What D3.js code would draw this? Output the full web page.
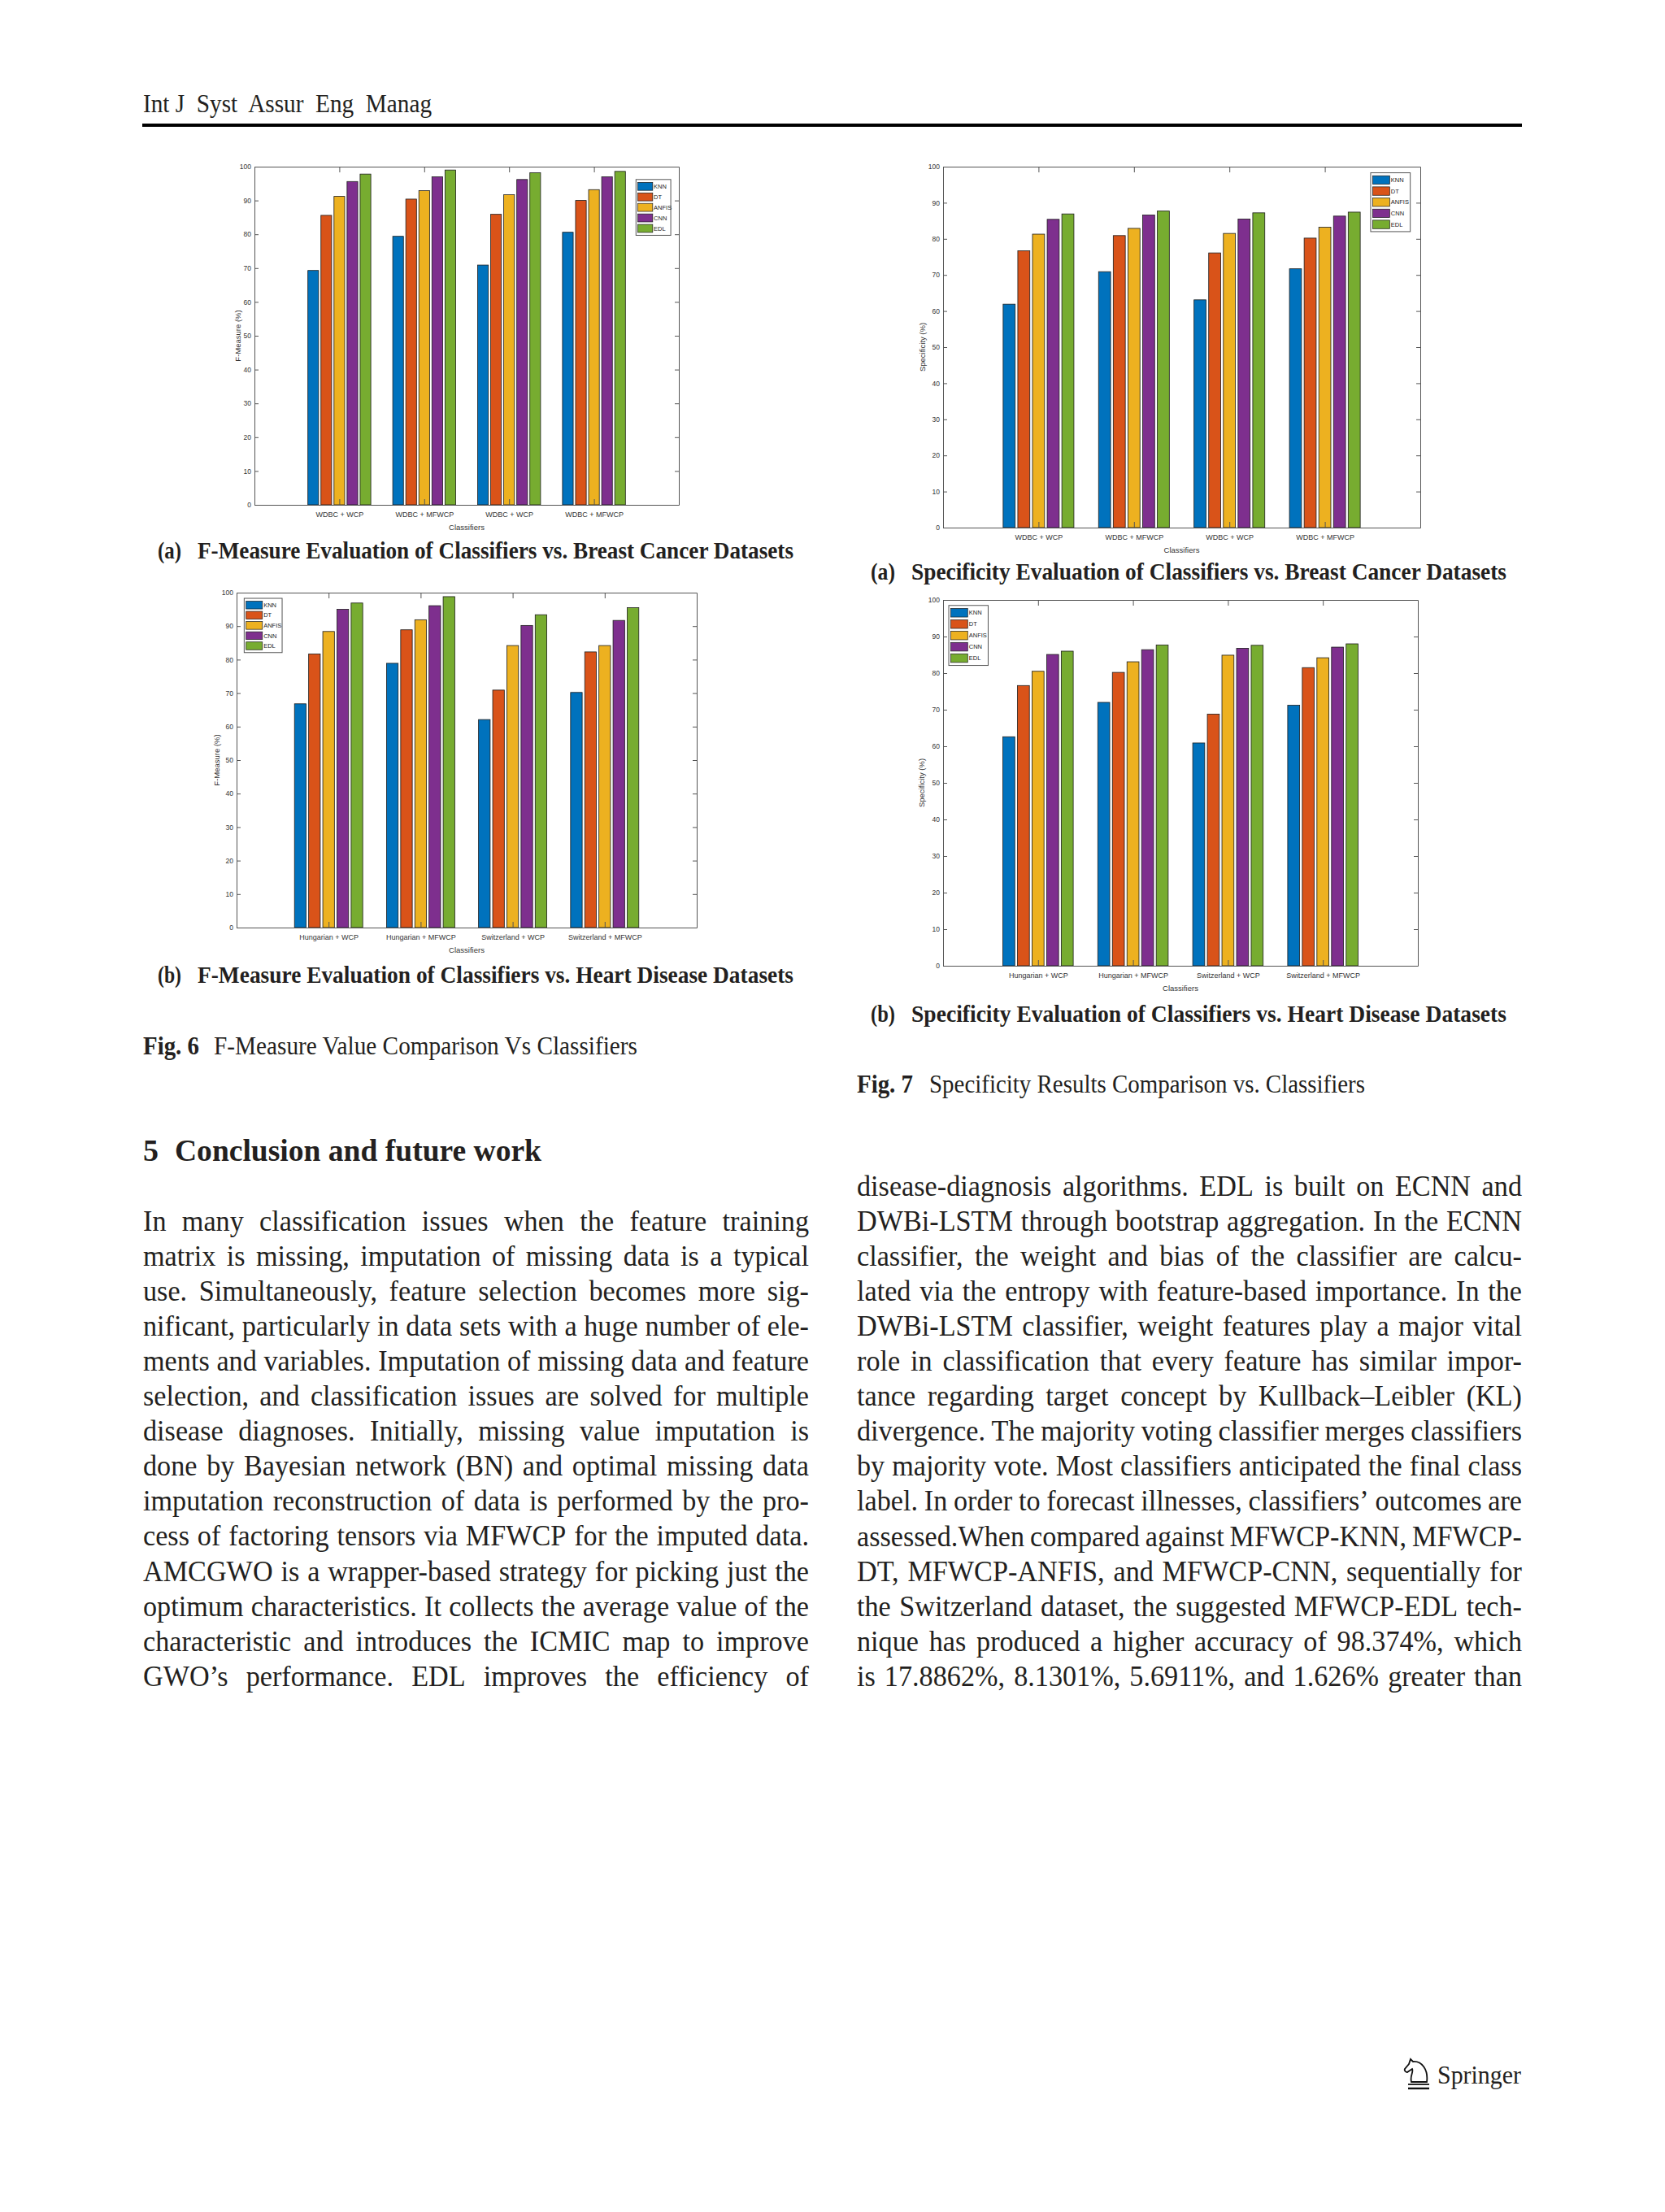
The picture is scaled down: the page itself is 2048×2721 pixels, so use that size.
<!DOCTYPE html>
<html>
<head>
<meta charset="utf-8">
<script src="https://cdn.jsdelivr.net/npm/d3@7"></script>
<style>
  html, body { margin: 0; padding: 0; background: #fff; }
  svg { display: block; }
</style>
</head>
<body>
<script>
// ---------------- DATA ----------------
const seriesNames = ["KNN", "DT", "ANFIS", "CNN", "EDL"];
const breastCategories = ["WDBC + WCP", "WDBC + MFWCP", "WDBC + WCP", "WDBC + MFWCP"];
const heartCategories = ["Hungarian + WCP", "Hungarian + MFWCP", "Switzerland + WCP", "Switzerland + MFWCP"];
const yTickValues = [0, 10, 20, 30, 40, 50, 60, 70, 80, 90, 100];

// rows = series (KNN, DT, ANFIS, CNN, EDL), columns = categories
const fMeasureBreast = [
  [69.3, 79.4, 70.9, 80.6],
  [85.6, 90.4, 85.9, 90.0],
  [91.2, 92.9, 91.7, 93.2],
  [95.6, 97.0, 96.2, 97.0],
  [97.8, 99.0, 98.2, 98.6]
];
const fMeasureHeart = [
  [66.8, 78.9, 62.1, 70.2],
  [81.7, 88.9, 70.9, 82.3],
  [88.4, 91.9, 84.2, 84.2],
  [95.0, 96.1, 90.2, 91.7],
  [96.9, 98.8, 93.4, 95.5]
];
const specificityBreast = [
  [61.9, 70.9, 63.1, 71.7],
  [76.7, 80.9, 76.1, 80.2],
  [81.3, 82.9, 81.5, 83.2],
  [85.4, 86.6, 85.5, 86.3],
  [86.9, 87.7, 87.2, 87.4]
];
const specificityHeart = [
  [62.6, 72.0, 60.9, 71.2],
  [76.6, 80.2, 68.8, 81.5],
  [80.5, 83.1, 84.9, 84.2],
  [85.1, 86.4, 86.8, 87.1],
  [86.0, 87.7, 87.6, 88.0]
];

const headerText = "Int J  Syst  Assur  Eng  Manag";
const leftColumnLines = [
  "In many classification issues when the feature training",
  "matrix is missing, imputation of missing data is a typical",
  "use. Simultaneously, feature selection becomes more sig-",
  "nificant, particularly in data sets with a huge number of ele-",
  "ments and variables. Imputation of missing data and feature",
  "selection, and classification issues are solved for multiple",
  "disease diagnoses. Initially, missing value imputation is",
  "done by Bayesian network (BN) and optimal missing data",
  "imputation reconstruction of data is performed by the pro-",
  "cess of factoring tensors via MFWCP for the imputed data.",
  "AMCGWO is a wrapper-based strategy for picking just the",
  "optimum characteristics. It collects the average value of the",
  "characteristic and introduces the ICMIC map to improve",
  "GWO\u2019s performance. EDL improves the efficiency of"
];
const rightColumnLines = [
  "disease-diagnosis algorithms. EDL is built on ECNN and",
  "DWBi-LSTM through bootstrap aggregation. In the ECNN",
  "classifier, the weight and bias of the classifier are calcu-",
  "lated via the entropy with feature-based importance. In the",
  "DWBi-LSTM classifier, weight features play a major vital",
  "role in classification that every feature has similar impor-",
  "tance regarding target concept by Kullback\u2013Leibler (KL)",
  "divergence. The majority voting classifier merges classifiers",
  "by majority vote. Most classifiers anticipated the final class",
  "label. In order to forecast illnesses, classifiers\u2019 outcomes are",
  "assessed.When compared against MFWCP-KNN, MFWCP-",
  "DT, MFWCP-ANFIS, and MFWCP-CNN, sequentially for",
  "the Switzerland dataset, the suggested MFWCP-EDL tech-",
  "nique has produced a higher accuracy of 98.374%, which",
  "is 17.8862%, 8.1301%, 5.6911%, and 1.626% greater than"
];

// ---------------- STYLE / LAYOUT ----------------
const colors = ["#0072BD", "#D95319", "#EDB120", "#7E2F8E", "#77AC30"];
const W = 2048, H = 2721;
const serif = "'Liberation Serif', 'Times New Roman', serif";
const sans = "'Liberation Sans', Arial, sans-serif";
const textColor = "#231f20";

const svg = d3.select("body").append("svg").attr("width", W).attr("height", H);
svg.append("rect").attr("width", W).attr("height", H).attr("fill", "#fff");

// header
svg.append("text").attr("x", 176).attr("y", 138)
  .attr("font-family", serif).attr("font-size", 32).attr("fill", textColor)
  .attr("textLength", 355).attr("lengthAdjust", "spacingAndGlyphs")
  .attr("xml:space", "preserve").style("white-space", "pre")
  .text(headerText);
svg.append("rect").attr("x", 175).attr("y", 152).attr("width", 1697).attr("height", 4).attr("fill", "#000");

// ---------------- CHARTS ----------------
const charts = [
  { values: fMeasureBreast, cats: breastCategories, ylabel: "F-Measure (%)",
    x0: 313, x1: 835, y0: 205, y1: 621, ylabelX: 296, legend: [0.899, 0.981, 0.038, 0.203] },
  { values: fMeasureHeart, cats: heartCategories, ylabel: "F-Measure (%)",
    x0: 291, x1: 857, y0: 729, y1: 1141, ylabelX: 270, legend: [0.0165, 0.099, 0.017, 0.179] },
  { values: specificityBreast, cats: breastCategories, ylabel: "Specificity (%)",
    x0: 1160, x1: 1747, y0: 205, y1: 649, ylabelX: 1138, legend: [0.896, 0.979, 0.017, 0.18] },
  { values: specificityHeart, cats: heartCategories, ylabel: "Specificity (%)",
    x0: 1160, x1: 1744, y0: 738, y1: 1188, ylabelX: 1137, legend: [0.012, 0.095, 0.015, 0.179] }
];

function drawChart(cfg) {
  const g = svg.append("g");
  const nS = seriesNames.length;
  const x = d3.scaleLinear().domain([0, cfg.cats.length + 1]).range([cfg.x0, cfg.x1]);
  const y = d3.scaleLinear().domain([0, 100]).range([cfg.y1, cfg.y0]);
  const groupWidth = Math.min(0.8, nS / (nS + 1.5));
  const slot = groupWidth / nS;
  const bw = x(slot * 0.82) - x(0);

  // bars
  seriesNames.forEach((s, j) => {
    g.selectAll(null).data(cfg.values[j]).enter().append("rect")
      .attr("x", (d, i) => x(i + 1 + (j - (nS - 1) / 2) * slot) - bw / 2)
      .attr("y", d => y(d))
      .attr("width", bw)
      .attr("height", d => y(0) - y(d))
      .attr("fill", colors[j])
      .attr("stroke", "#1b1b1b")
      .attr("stroke-width", 0.8);
  });

  const axColor = "#555";
  const styleAxis = sel => {
    sel.selectAll("path").attr("stroke", axColor).attr("stroke-width", 1);
    sel.selectAll("line").attr("stroke", axColor).attr("stroke-width", 1);
    sel.selectAll("text").attr("fill", "#333").attr("font-family", sans);
  };
  const catIdx = d3.range(1, cfg.cats.length + 1);

  g.append("g").attr("transform", `translate(${cfg.x0},0)`)
    .call(d3.axisLeft(y).tickValues(yTickValues).tickSize(-5).tickSizeOuter(0).tickPadding(4))
    .call(styleAxis).call(s => s.selectAll("text").attr("font-size", 8.5));
  g.append("g").attr("transform", `translate(${cfg.x1},0)`)
    .call(d3.axisRight(y).tickValues(yTickValues).tickSize(-5).tickSizeOuter(0).tickFormat(""))
    .call(styleAxis);
  g.append("g").attr("transform", `translate(0,${cfg.y1})`)
    .call(d3.axisBottom(x).tickValues(catIdx).tickSize(-7).tickSizeOuter(0).tickPadding(9)
      .tickFormat(d => cfg.cats[d - 1]))
    .call(styleAxis).call(s => s.selectAll("text").attr("font-size", 9));
  g.append("g").attr("transform", `translate(0,${cfg.y0})`)
    .call(d3.axisTop(x).tickValues(catIdx).tickSize(-7).tickSizeOuter(0).tickFormat(""))
    .call(styleAxis);

  // axis labels
  g.append("text")
    .attr("transform", `translate(${cfg.ylabelX},${(cfg.y0 + cfg.y1) / 2}) rotate(-90)`)
    .attr("text-anchor", "middle").attr("font-family", sans).attr("font-size", 9.5).attr("fill", "#333")
    .text(cfg.ylabel);
  g.append("text").attr("x", (cfg.x0 + cfg.x1) / 2).attr("y", cfg.y1 + 31)
    .attr("text-anchor", "middle").attr("font-family", sans).attr("font-size", 9.5).attr("fill", "#333")
    .text("Classifiers");

  // legend
  const w = cfg.x1 - cfg.x0, h = cfg.y1 - cfg.y0;
  const lx0 = cfg.x0 + cfg.legend[0] * w, lx1 = cfg.x0 + cfg.legend[1] * w;
  const ly0 = cfg.y0 + cfg.legend[2] * h, ly1 = cfg.y0 + cfg.legend[3] * h;
  const lg = g.append("g");
  lg.append("rect").attr("x", lx0).attr("y", ly0).attr("width", lx1 - lx0).attr("height", ly1 - ly0)
    .attr("fill", "#fff").attr("stroke", "#555").attr("stroke-width", 1);
  const rowH = (ly1 - ly0 - 4) / nS;
  const lw = lx1 - lx0;
  seriesNames.forEach((s, j) => {
    const ry = ly0 + 2 + j * rowH;
    lg.append("rect").attr("x", lx0 + 0.05 * lw).attr("y", ry + rowH * 0.12)
      .attr("width", 0.43 * lw).attr("height", rowH * 0.76)
      .attr("fill", colors[j]).attr("stroke", "#1b1b1b").attr("stroke-width", 0.7);
    lg.append("text").attr("x", lx0 + 0.51 * lw).attr("y", ry + rowH * 0.5)
      .attr("dy", "0.35em").attr("font-family", sans).attr("font-size", 7.5).attr("fill", "#222")
      .text(s);
  });
}
charts.forEach(drawChart);

// ---------------- CAPTIONS ----------------
function capText(x, y, str, opts) {
  const t = svg.append("text").attr("x", x).attr("y", y)
    .attr("font-family", serif).attr("font-size", opts.size).attr("fill", textColor)
    .attr("font-weight", opts.bold ? "bold" : "normal").text(str);
  if (opts.len) t.attr("textLength", opts.len).attr("lengthAdjust", "spacingAndGlyphs");
  return t;
}
// sub-captions
capText(194, 687, "(a)", { size: 29, bold: true, len: 29 });
capText(243, 687, "F-Measure Evaluation of Classifiers vs. Breast Cancer Datasets", { size: 29, bold: true, len: 733 });
capText(194, 1209, "(b)", { size: 29, bold: true, len: 29 });
capText(243, 1209, "F-Measure Evaluation of Classifiers vs. Heart Disease Datasets", { size: 29, bold: true, len: 733 });
capText(1071, 713, "(a)", { size: 29, bold: true, len: 30 });
capText(1121, 713, "Specificity Evaluation of Classifiers vs. Breast Cancer Datasets", { size: 29, bold: true, len: 732 });
capText(1071, 1257, "(b)", { size: 29, bold: true, len: 30 });
capText(1121, 1257, "Specificity Evaluation of Classifiers vs. Heart Disease Datasets", { size: 29, bold: true, len: 732 });
// figure captions
capText(176, 1297, "Fig. 6", { size: 31, bold: true, len: 69 });
capText(263, 1297, "F-Measure Value Comparison Vs Classifiers", { size: 31, len: 521 });
capText(1054, 1344, "Fig. 7", { size: 31, bold: true, len: 69 });
capText(1143, 1344, "Specificity Results Comparison vs. Classifiers", { size: 31, len: 536 });

// section heading
capText(176, 1428, "5", { size: 38, bold: true });
capText(215, 1428, "Conclusion and future work", { size: 38, bold: true, len: 451 });

// ---------------- BODY TEXT (justified, slightly condensed Times) ----------------
const bodySize = 36;
const squeeze = 0.95;
const measurer = svg.append("text").attr("font-family", serif).attr("font-size", bodySize)
  .attr("x", -1000).attr("y", -1000);
function wordWidth(w) { measurer.text(w); return measurer.node().getComputedTextLength() * squeeze; }

function justifiedColumn(lines, x0, width, firstBaseline, lineStep) {
  const g = svg.append("g").attr("font-family", serif).attr("font-size", bodySize).attr("fill", textColor);
  lines.forEach((line, li) => {
    const words = line.split(" ");
    const widths = words.map(wordWidth);
    const total = d3.sum(widths);
    const gap = words.length > 1 ? (width - total) / (words.length - 1) : 0;
    let cx = x0;
    const yb = firstBaseline + li * lineStep;
    words.forEach((w, i) => {
      g.append("text")
        .attr("transform", `translate(${cx},${yb}) scale(${squeeze},1)`)
        .text(w);
      cx += widths[i] + gap;
    });
  });
}
justifiedColumn(leftColumnLines, 176, 819, 1514, 43.05);
justifiedColumn(rightColumnLines, 1054, 818, 1471, 43.05);
measurer.remove();

// ---------------- FOOTER ----------------
const logo = svg.append("g").attr("fill", "none").attr("stroke", "#111").attr("stroke-width", 1.8);
logo.append("path").attr("d",
  "M1736,2561 C1734,2553 1739,2549 1737,2545 L1731,2549 C1729,2549 1727,2547 1728,2545 L1733,2539 L1735,2533 L1738,2536 C1749,2535 1757,2546 1755,2561 Z");
logo.append("line").attr("x1", 1732).attr("x2", 1758).attr("y1", 2564).attr("y2", 2564);
logo.append("line").attr("x1", 1732).attr("x2", 1758).attr("y1", 2569).attr("y2", 2569).attr("stroke-width", 2.4);
svg.append("text").attr("x", 1768).attr("y", 2563).attr("font-family", serif).attr("font-size", 32)
  .attr("fill", textColor).attr("textLength", 103).attr("lengthAdjust", "spacingAndGlyphs").text("Springer");
</script>
</body>
</html>
